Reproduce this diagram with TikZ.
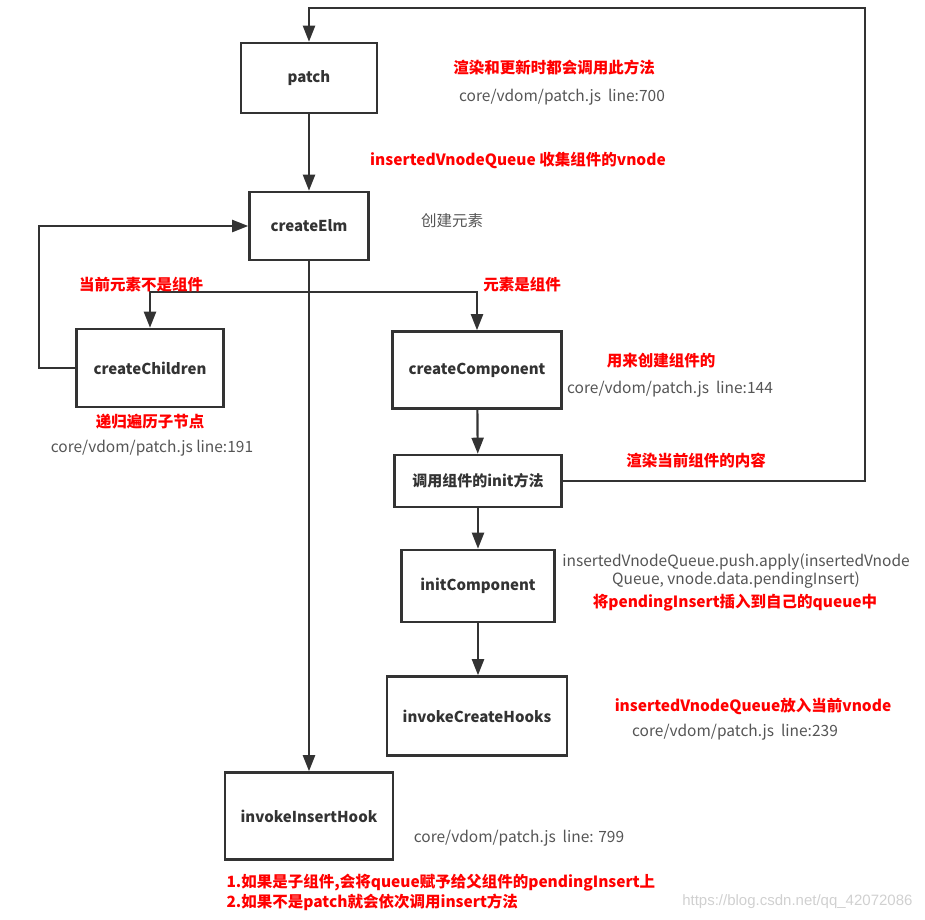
\documentclass[tikz,border=0pt]{standalone}
\usepackage{fontspec}
\setmainfont{Noto Sans CJK SC}
\newfontfamily\markfont{Liberation Sans}
\usetikzlibrary{arrows.meta,positioning}
\definecolor{linegray}{HTML}{333333}
\definecolor{notered}{HTML}{FF0000}
\definecolor{pathgray}{HTML}{555555}
\definecolor{markgray}{HTML}{D0D0D0}

\begin{document}
\begin{tikzpicture}[x=1pt,y=-1pt,>={Triangle[width=12pt,length=16pt]}]
  \tikzset{
    fnbox/.style={draw=linegray,line width=2.6pt,fill=white,inner sep=0pt,
      text=linegray,font=\bfseries\fontsize{15}{18}\selectfont},
    flow/.style={->,draw=linegray,line width=2.2pt},
    redtxt/.style={text=notered,font=\bfseries\fontsize{15.5}{18}\selectfont},
    graytxt/.style={text=pathgray,font=\fontsize{15.5}{18}\selectfont,align=center},
  }
  \useasboundingbox (0,0) rectangle (925,919);

  % boxes
  \node[fnbox,minimum width=136pt,minimum height=70pt] (patch) at (309,78) {patch};
  \node[fnbox,minimum width=119pt,minimum height=68pt] (createElm) at (309,226) {createElm};
  \node[fnbox,minimum width=147pt,minimum height=78pt] (createChildren) at (150,368) {createChildren};
  \node[fnbox,minimum width=169pt,minimum height=77pt] (createComponent) at (477,370) {createComponent};
  \node[fnbox,minimum width=167pt,minimum height=52pt] (initCall) at (478,481) {调用组件的init方法};
  \node[fnbox,minimum width=153pt,minimum height=72pt] (initComponent) at (478,586) {initComponent};
  \node[fnbox,minimum width=180pt,minimum height=79pt] (invokeCreateHooks) at (477,716) {invokeCreateHooks};
  \node[fnbox,minimum width=168pt,minimum height=87pt] (invokeInsertHook) at (309,816) {invokeInsertHook};

  \coordinate (branch) at (309,292);
  \coordinate (loopR) at (865,8);

  % connectors
  \draw[flow] (patch) -- (createElm);
  \draw[flow] (createElm) -- (invokeInsertHook);
  \draw[flow] (branch) -| (createChildren);
  \draw[flow] (branch) -| (createComponent);
  \draw[flow] (createChildren.west) -- ++(-36,0) |- (createElm.west);
  \draw[flow] (createComponent) -- (initCall);
  \draw[flow] (initCall) -- (initComponent);
  \draw[flow] (initComponent) -- (initComponent |- invokeCreateHooks.north);
  \draw[flow] (initCall.east) -| (loopR) -| (patch.north);

  % notes
  \node[redtxt] (patchNote) at (554,68) {渲染和更新时都会调用此方法};
  \node[graytxt] (patchLine) at (562,97) {core/vdom/patch.js\ \ line:700};
  \node[redtxt] (queueNote) at (518,160) {insertedVnodeQueue 收集组件的vnode};
  \node[graytxt] (elmNote) at (452,221) {创建元素};
  \node[redtxt] (notComp) at (141,285) {当前元素不是组件};
  \node[redtxt] (isComp) at (522,285) {元素是组件};
  \node[redtxt] (childNote) at (150,422) {递归遍历子节点};
  \node[graytxt] (childLine) at (152,448) {core/vdom/patch.js line:191};
  \node[redtxt] (compNote) at (661,361) {用来创建组件的};
  \node[graytxt] (compLine) at (670,389) {core/vdom/patch.js\ \ line:144};
  \node[redtxt] (renderNote) at (696,461) {渲染当前组件的内容};
  \node[graytxt] (pushLine) at (736,571) {insertedVnodeQueue.push.apply(insertedVnode\\Queue, vnode.data.pendingInsert)};
  \node[redtxt] (pushNote) at (735,603) {将pendingInsert插入到自己的queue中};
  \node[redtxt] (hooksNote) at (753,706) {insertedVnodeQueue放入当前vnode};
  \node[graytxt] (hooksLine) at (735,732) {core/vdom/patch.js\ \ line:239};
  \node[graytxt] (insertLine) at (519,838) {core/vdom/patch.js\ \ line: 799};
  \node[redtxt,anchor=west] (insertNoteA) at (223,883) {1.如果是子组件,会将queue赋予给父组件的pendingInsert上};
  \node[redtxt,anchor=west] (insertNoteB) at (223,902) {2.如果不是patch就会依次调用insert方法};
  \node[text=markgray,font=\markfont\fontsize{15}{18}\selectfont,anchor=east] (mark) at (916,902) {https://blog.csdn.net/qq\_42072086};
\end{tikzpicture}
\end{document}
